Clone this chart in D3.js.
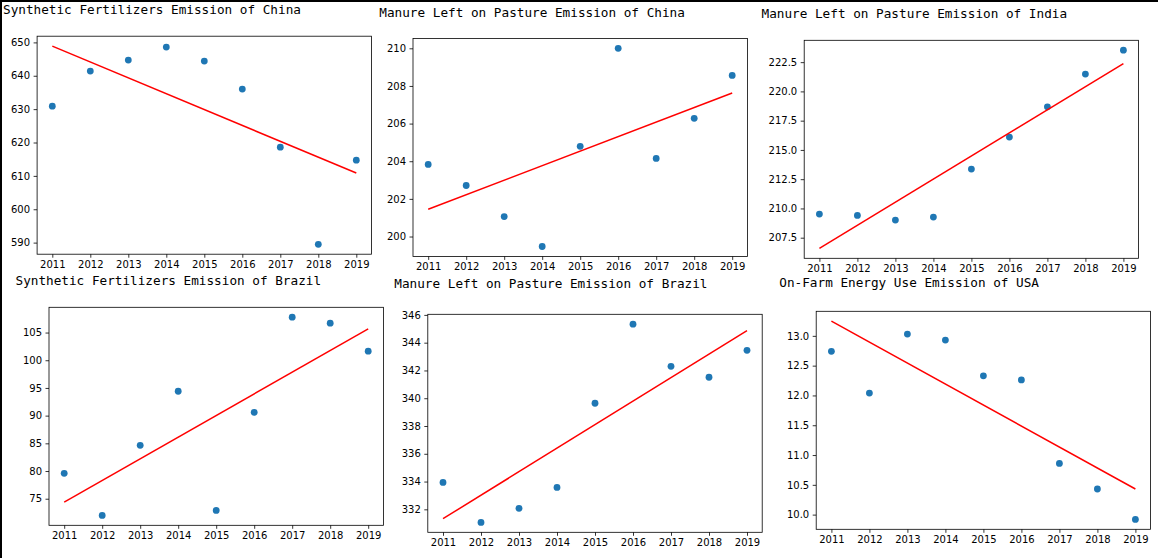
<!DOCTYPE html>
<html>
<head>
<meta charset="utf-8">
<script src="https://cdn.jsdelivr.net/npm/d3@7"></script>
<style>
  body { margin: 0; background: #fff; }
  svg { display: block; }
</style>
</head>
<body>
<svg id="chart"></svg>
<script>
// values
const years = [2011, 2012, 2013, 2014, 2015, 2016, 2017, 2018, 2019]

const chinaSynthetic  = [630.9, 641.4, 644.7, 648.6, 644.4, 636.0, 618.6, 589.5, 614.7]
const chinaManure     = [203.83, 202.71, 201.06, 199.47, 204.79, 210.0, 204.15, 206.28, 208.56]
const indiaManure     = [209.52, 209.40, 209.01, 209.26, 213.36, 216.10, 218.68, 221.48, 223.52]
const brazilSynthetic = [79.58, 71.99, 84.64, 94.40, 72.89, 90.60, 107.77, 106.69, 101.63]
const brazilManure    = [333.94, 331.06, 332.07, 333.58, 339.64, 345.33, 342.30, 341.51, 343.45]
const usaEnergy       = [12.74, 12.04, 13.03, 12.93, 12.33, 12.26, 10.86, 10.43, 9.92]

const titles = [
  "Synthetic Fertilizers Emission of China",
  "Manure Left on Pasture Emission of China",
  "Manure Left on Pasture Emission of India",
  "Synthetic Fertilizers Emission of Brazil",
  "Manure Left on Pasture Emission of Brazil",
  "On-Farm Energy Use Emission of USA"
]

const yTicks = [
  [590, 600, 610, 620, 630, 640, 650],
  [200, 202, 204, 206, 208, 210],
  [207.5, 210.0, 212.5, 215.0, 217.5, 220.0, 222.5],
  [75, 80, 85, 90, 95, 100, 105],
  [332, 334, 336, 338, 340, 342, 344, 346],
  [10.0, 10.5, 11.0, 11.5, 12.0, 12.5, 13.0]
]
const yFormats = ["d", "d", ".1f", "d", "d", ".1f"]

const series = [chinaSynthetic, chinaManure, indiaManure, brazilSynthetic, brazilManure, usaEnergy]

// where each little figure sits on the page
const layout = [
  {left: 37.1,  top: 36.2,  tx: 3,     ty: 14},
  {left: 413.0, top: 38.4,  tx: 379.3, ty: 16.5},
  {left: 804.2, top: 40.3,  tx: 761.5, ty: 18},
  {left: 49.0,  top: 307.3, tx: 15.5,  ty: 285},
  {left: 427.8, top: 314.3, tx: 394.3, ty: 287.5},
  {left: 816.2, top: 311.3, tx: 779.3, ty: 287.3}
]
const axW = 334.4, axH = 218

const width = 1158, height = 558

const svg = d3.select("#chart")
    .attr("width", width)
    .attr("height", height)
    .attr("viewBox", [0, 0, width, height])

// least squares fit, like np.polyfit(x, y, 1)
function fit(xs, ys) {
  const mx = d3.mean(xs), my = d3.mean(ys)
  const sxy = d3.sum(xs, (x, i) => (x - mx) * (ys[i] - my))
  const sxx = d3.sum(xs, x => (x - mx) ** 2)
  const b = sxy / sxx
  return x => my + b * (x - mx)
}

function pad(lo, hi) {
  const m = (hi - lo) * 0.05
  return [lo - m, hi + m]
}

series.forEach((vals, i) => {
  const L = layout[i]
  const trend = fit(years, vals)
  const trendVals = [trend(years[0]), trend(years[years.length - 1])]

  const x = d3.scaleLinear()
      .domain(pad(d3.min(years), d3.max(years)))
      .range([L.left, L.left + axW])

  const y = d3.scaleLinear()
      .domain(pad(d3.min(vals.concat(trendVals)), d3.max(vals.concat(trendVals))))
      .range([L.top + axH, L.top])

  const g = svg.append("g")

  g.append("text")
      .attr("x", L.tx)
      .attr("y", L.ty)
      .attr("font-family", "DejaVu Sans Mono, monospace")
      .attr("font-size", 12.7)
      .attr("fill", "#000")
      .text(titles[i])

  const xAxis = g.append("g")
      .attr("transform", `translate(0,${L.top + axH})`)
      .call(d3.axisBottom(x).tickValues(years).tickFormat(d3.format("d"))
        .tickSize(3.5).tickPadding(3.5).tickSizeOuter(0))

  const yAxis = g.append("g")
      .attr("transform", `translate(${L.left},0)`)
      .call(d3.axisLeft(y).tickValues(yTicks[i]).tickFormat(d3.format(yFormats[i]))
        .tickSize(3.5).tickPadding(3.5).tickSizeOuter(0))

  for (const ax of [xAxis, yAxis]) {
    ax.select(".domain").remove()
    ax.selectAll("line").attr("stroke", "#000").attr("stroke-width", 0.8)
    ax.selectAll("text")
        .attr("font-family", "DejaVu Sans, sans-serif")
        .attr("font-size", 10)
        .attr("fill", "#000")
  }

  g.append("rect")
      .attr("x", L.left)
      .attr("y", L.top)
      .attr("width", axW)
      .attr("height", axH)
      .attr("fill", "none")
      .attr("stroke", "#000")
      .attr("stroke-width", 0.8)

  g.selectAll("circle")
    .data(vals)
    .join("circle")
      .attr("cx", (d, j) => x(years[j]))
      .attr("cy", d => y(d))
      .attr("r", 3.4)
      .attr("fill", "#1f77b4")

  g.append("path")
      .datum([years[0], years[years.length - 1]])
      .attr("fill", "none")
      .attr("stroke", "red")
      .attr("stroke-width", 1.5)
      .attr("d", d3.line().x(d => x(d)).y(d => y(trend(d))))
})

// dark edge of the notebook output area
svg.append("line")
    .attr("x1", 0).attr("x2", width)
    .attr("y1", 1).attr("y2", 1)
    .attr("stroke", "#000").attr("stroke-width", 2)
svg.append("line")
    .attr("x1", 1).attr("x2", 1)
    .attr("y1", 0).attr("y2", height)
    .attr("stroke", "#000").attr("stroke-width", 2)
</script>
</body>
</html>
